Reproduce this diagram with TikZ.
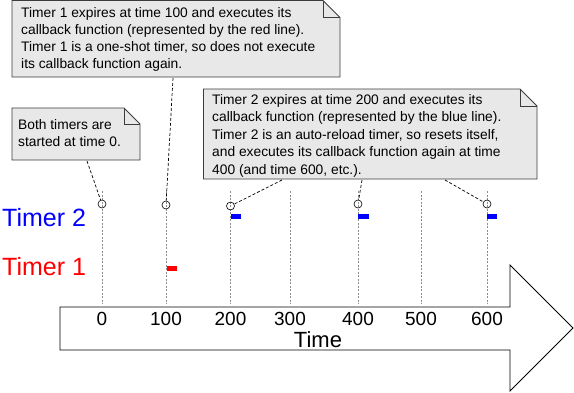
\documentclass[tikz,border=0pt]{standalone}
\usepackage{fontspec}
\setmainfont{Liberation Sans}
\usetikzlibrary{calc}
\definecolor{notefill}{RGB}{232,232,232}
\definecolor{noteline}{RGB}{60,60,60}
\definecolor{tickgray}{RGB}{140,140,140}
\newcommand{\drawnote}[2]{%
  \filldraw[fill=notefill, draw=noteline, line width=0.8pt]
    (#1.north west) -- ($(#1.north east)+(-#2,0)$) -- ($(#1.north east)+(0,#2)$)
    -- (#1.south east) -- (#1.south west) -- cycle;
  \draw[noteline, line width=0.6pt]
    ($(#1.north east)+(-#2,0)$) -- ($(#1.north east)+(-#2,#2)$) -- ($(#1.north east)+(0,#2)$);
}
\begin{document}
\begin{tikzpicture}[x=1pt,y=-1pt,
  notebox/.style={draw=none, fill=none, inner sep=0pt, outer sep=0pt, anchor=north west},
  notetext/.style={anchor=north west, align=left, inner sep=0pt},
  tickline/.style={draw=tickgray, line width=0.7pt, dash pattern=on 2pt off 1.5pt},
  marker/.style={circle, draw=black, line width=0.6pt, minimum size=8pt, inner sep=0pt},
  conn/.style={draw=black, line width=0.7pt, dash pattern=on 3pt off 2pt},
  ticklabel/.style={anchor=base, inner sep=0pt, font=\fontsize{19}{22}\selectfont},
  timerlabel/.style={anchor=base west, inner sep=0pt, font=\fontsize{25}{30}\selectfont},
]
\useasboundingbox (0,0) rectangle (574,392);

% time arrow
\draw[black, line width=0.8pt, fill=white]
  (60,307) -- (510,307) -- (510,265) -- (573,328) -- (510,391) -- (510,350) -- (60,350) -- cycle;

% vertical dashed lines, tick labels
\foreach \x/\lab [count=\i from 0] in {102/0,166/100,230.5/200,290/300,358/400,421/500,487/600}{
  \coordinate (vt\i) at (\x,191);
  \coordinate (vb\i) at (\x,304);
  \draw[tickline] (vt\i) -- (vb\i);
  \node[ticklabel] (lab\i) at (\x,325) {\lab};
}
\node[anchor=base, inner sep=0pt, font=\fontsize{22}{26}\selectfont] (time) at (318,347) {Time};

% timer labels
\node[timerlabel, text={rgb,255:red,0;green,0;blue,255}] (t2) at (2,226) {Timer 2};
\node[timerlabel, text={rgb,255:red,255;green,0;blue,0}] (t1) at (2,275) {Timer 1};

% execution bars
\fill[blue] (230.5,214) rectangle (241,219);
\fill[blue] (358,214) rectangle (369,219);
\fill[blue] (486.5,214) rectangle (497,219);
\fill[red] (167,265.5) rectangle (177,270.5);

% markers
\node[marker] (m0) at (102,204) {};
\node[marker] (m1) at (166,205) {};
\node[marker] (m2) at (230.5,206) {};
\node[marker] (m4) at (358,204) {};
\node[marker] (m6) at (487,204) {};

% notes
\node[notebox, minimum width=328pt, minimum height=76.5pt] (A) at (12,0.5) {};
\drawnote{A}{17}
\node[notetext, font=\fontsize{13.8}{17}\selectfont] (tA) at (21,6.9)
  {Timer 1 expires at time 100 and executes its\\callback function (represented by the red line).\\Timer 1 is a one-shot timer, so does not execute\\its callback function again.};

\node[notebox, minimum width=128pt, minimum height=52pt] (B) at (12,108) {};
\drawnote{B}{16}
\node[notetext, font=\fontsize{13.8}{17}\selectfont] (tB) at (18,118.9)
  {Both timers are\\started at time 0.};

\node[notebox, minimum width=333.5pt, minimum height=90pt] (C) at (203.5,89) {};
\drawnote{C}{17}
\node[notetext, font=\fontsize{13.8}{17.5}\selectfont] (tC) at (212,93.9)
  {Timer 2 expires at time 200 and executes its\\callback function (represented by the blue line).\\Timer 2 is an auto-reload timer, so resets itself,\\and executes its callback function again at time\\400 (and time 600, etc.).};

% connector start points
\coordinate (cB) at (87,161);
\coordinate (cA) at (173,78);
\coordinate (cC1) at (282,180);
\coordinate (cC2) at (362,180);
\coordinate (cC3) at (445,180);

\draw[conn] (cB) -- (m0);
\draw[conn] (cA) -- (m1);
\draw[conn] (cC1) -- (m2);
\draw[conn] (cC2) -- (m4);
\draw[conn] (cC3) -- (m6);
\end{tikzpicture}
\end{document}
